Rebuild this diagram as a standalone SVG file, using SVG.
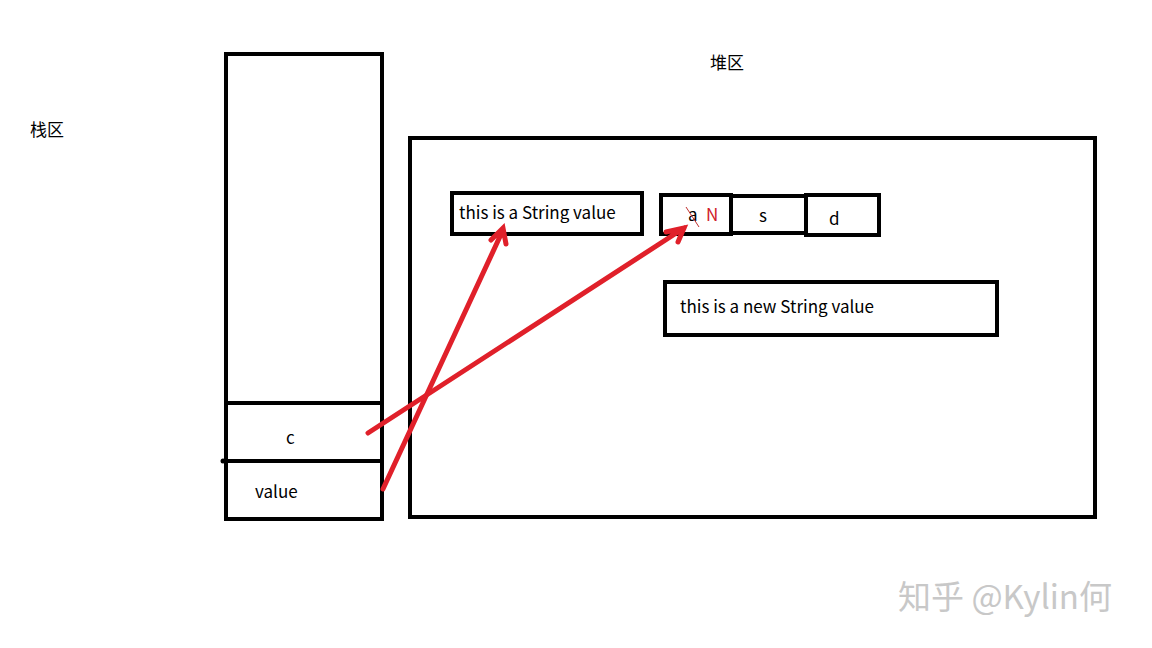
<svg xmlns="http://www.w3.org/2000/svg" width="1152" height="648" viewBox="0 0 1152 648">
<style>
.b{fill:#fff;stroke:#000;stroke-width:4}
.t{font-family:"Microsoft YaHei","Noto Sans CJK SC","Noto Sans",sans-serif;font-size:17px;fill:#000}
.r{stroke:#e0202a;stroke-width:5;fill:none;stroke-linecap:round}
</style>
<rect width="1152" height="648" fill="#fff"/>
<text class="t" x="30" y="136">栈区</text>
<text class="t" x="710" y="69">堆区</text>
<g id="stack"><rect class="b" x="226" y="54" width="156" height="465"/></g>
<g id="c"><rect class="b" x="226" y="403" width="156" height="58"/><text class="t" x="286" y="444">c</text></g>
<g id="value"><rect class="b" x="226" y="461" width="156" height="58"/><text class="t" x="255" y="498">value</text></g>
<circle cx="223" cy="461" r="2.5"/>
<g id="heap"><rect class="b" x="410" y="138" width="685" height="379"/></g>
<g id="str1"><rect class="b" x="452" y="193" width="190" height="41"/><text class="t" x="459" y="219">this is a String value</text></g>
<g id="arr">
<rect class="b" x="661" y="195" width="70" height="39"/>
<rect class="b" x="731" y="196" width="75" height="37"/>
<rect class="b" x="806" y="195" width="73" height="40"/>
<text class="t" x="688" y="221">a</text>
<line x1="686" y1="207" x2="699" y2="227" stroke="#c03030" stroke-width="1"/>
<text class="t" x="706" y="221" style="fill:#d0202a">N</text>
<text class="t" x="759" y="222">s</text>
<text class="t" x="829" y="225">d</text>
</g>
<g id="str2"><rect class="b" x="665" y="282" width="332" height="53"/><text class="t" x="680" y="313">this is a new String value</text></g>
<g id="connectors">
<path class="r" d="M383 489 L503 230 M491 240 L503 228 L506 244"/>
<path class="r" d="M368 433 L684 228 M666 232 L684 228 L678 242"/>
</g>
<text x="898" y="609" style="font-family:'Noto Sans CJK SC',sans-serif;font-size:33px;fill:#c8c8c8">知乎 @Kylin何</text>
</svg>
